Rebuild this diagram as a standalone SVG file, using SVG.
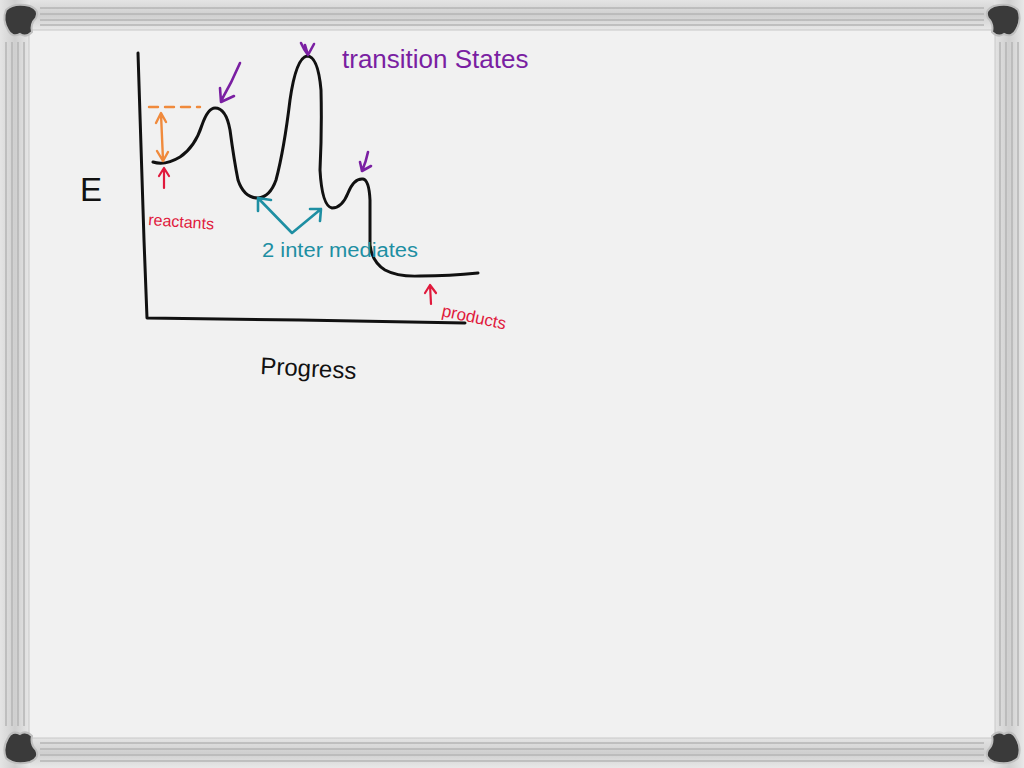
<svg xmlns="http://www.w3.org/2000/svg" width="1024" height="768" viewBox="0 0 1024 768">
<defs>
<style>
.ink{fill:none;stroke-linecap:round;stroke-linejoin:round}
.blk{stroke:#111;stroke-width:3}
.pur{stroke:#7a1fa2;stroke-width:2.6}
.red{stroke:#e0193c;stroke-width:2.2}
.org{stroke:#f08a3c;stroke-width:2.4}
.teal{stroke:#1e8fa3;stroke-width:2.6}
.t{font-family:"Liberation Sans","DejaVu Sans",sans-serif}
.stripeH{stroke:#b5b5b5;stroke-width:1.5}
.cap{fill:#3a3a3a;stroke:#bfbfbf;stroke-width:2}
</style>
<linearGradient id="bh" x1="0" y1="0" x2="0" y2="1">
<stop offset="0" stop-color="#e4e4e4"/><stop offset="0.5" stop-color="#cfcfcf"/><stop offset="1" stop-color="#e8e8e8"/>
</linearGradient>
<linearGradient id="bv" x1="0" y1="0" x2="1" y2="0">
<stop offset="0" stop-color="#e4e4e4"/><stop offset="0.5" stop-color="#cfcfcf"/><stop offset="1" stop-color="#e8e8e8"/>
</linearGradient>
</defs>
<!-- frame -->
<rect x="0" y="0" width="1024" height="768" fill="#d9d9d9"/>
<rect x="0" y="0" width="1024" height="30" fill="url(#bh)"/>
<rect x="0" y="738" width="1024" height="30" fill="url(#bh)"/>
<rect x="0" y="0" width="30" height="768" fill="url(#bv)"/>
<rect x="994" y="0" width="30" height="768" fill="url(#bv)"/>
<g class="stripeH">
<line x1="40" y1="8" x2="984" y2="8"/><line x1="40" y1="14" x2="984" y2="14"/><line x1="40" y1="20" x2="984" y2="20"/><line x1="40" y1="25" x2="984" y2="25"/>
<line x1="40" y1="743" x2="984" y2="743"/><line x1="40" y1="749" x2="984" y2="749"/><line x1="40" y1="755" x2="984" y2="755"/><line x1="40" y1="761" x2="984" y2="761"/>
<line x1="6" y1="42" x2="6" y2="726"/><line x1="12" y1="42" x2="12" y2="726"/><line x1="18" y1="42" x2="18" y2="726"/><line x1="24" y1="42" x2="24" y2="726"/>
<line x1="1000" y1="42" x2="1000" y2="726"/><line x1="1006" y1="42" x2="1006" y2="726"/><line x1="1012" y1="42" x2="1012" y2="726"/><line x1="1018" y1="42" x2="1018" y2="726"/>
</g>
<rect x="29" y="30" width="966" height="708" fill="#f1f1f1" stroke="#c8c8c8" stroke-width="1"/>
<g>
<path class="cap" d="M6 10 Q14 2 30 6 Q40 10 36 18 Q30 24 32 32 Q26 38 20 34 Q12 38 8 30 Q2 20 6 10Z"/>
<path class="cap" d="M1018 10 Q1010 2 994 6 Q984 10 988 18 Q994 24 992 32 Q998 38 1004 34 Q1012 38 1016 30 Q1022 20 1018 10Z"/>
<path class="cap" d="M6 758 Q14 766 30 762 Q40 758 36 750 Q30 744 32 736 Q26 730 20 734 Q12 730 8 738 Q2 748 6 758Z"/>
<path class="cap" d="M1018 758 Q1010 766 994 762 Q984 758 988 750 Q994 744 992 736 Q998 730 1004 734 Q1012 730 1016 738 Q1022 748 1018 758Z"/>
</g>
<!-- axes -->
<g id="axes">
<path class="ink blk" d="M138 53 Q141 150 144 240 Q146 290 147 318 L300 320 L465 323"/>
</g>
<!-- energy curve -->
<g id="curve">
<path class="ink blk" d="M153 162 Q165 166 180 157 Q195 147 202 125 Q208 108 215 108 Q226 108 230 130 Q234 160 238 180 Q244 198 258 198 Q270 197 276 180 Q284 150 290 100 Q296 58 307 56 Q318 56 321 90 Q322 130 320 170 Q322 206 332 208 Q342 208 348 193 Q354 178 363 179 Q369 180 370 200 L370 245 Q372 262 385 270 Q398 277 420 276 Q450 276 478 273"/>
</g>
<!-- annotations -->
<g id="connectors">
<path class="ink org" d="M149 107 L200 107" stroke-dasharray="9 7"/>
<path class="ink org" d="M161 114 L163 160 M156 123 L161 113 L166 122 M157 151 L163 161 L168 152"/>
<path class="ink red" d="M164 188 L164 169 M159 176 L164 168 L169 176"/>
<path class="ink pur" d="M240 63 Q232 82 221 101 M220 88 L221 102 L234 96"/>
<path class="ink pur" d="M301 43 Q304 50 308 55 M305 45 L308 55 L314 44"/>
<path class="ink pur" d="M368 152 Q366 162 362 171 M360 162 L362 171 L371 166"/>
<path class="ink teal" d="M258 198 L292 233 L321 209 M258 211 L258 198 L271 200 M310 209 L321 209 L320 221"/>
<path class="ink red" d="M431 304 L430 285 M425 293 L430 285 L436 293"/>
</g>
<!-- labels -->
<g id="labels">
<text class="t" x="80" y="201" font-size="33" fill="#111">E</text>
<text class="t" x="148" y="225" font-size="16" fill="#e0193c" transform="rotate(4 148 225)">reactants</text>
<text class="t" x="342" y="68" font-size="26" fill="#7a1fa2">transition States</text>
<text class="t" x="262" y="257" font-size="20" fill="#1e8fa3" textLength="156" lengthAdjust="spacingAndGlyphs">2 inter mediates</text>
<text class="t" x="441" y="316" font-size="17" fill="#e0193c" transform="rotate(12 441 316)">products</text>
<text class="t" x="260" y="374" font-size="24" fill="#111" transform="rotate(3 260 374)">Progress</text>
</g>
</svg>
